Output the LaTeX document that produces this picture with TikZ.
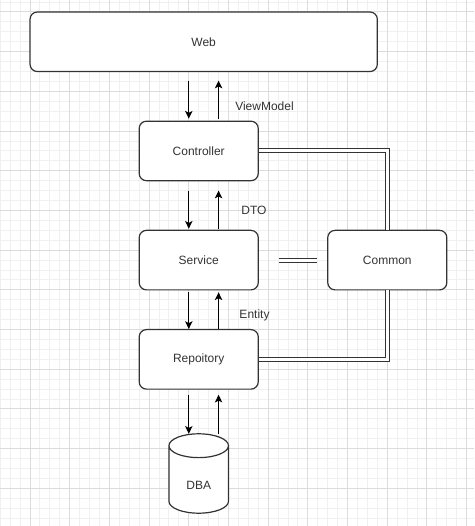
\documentclass[tikz,border=0pt]{standalone}
\usepackage{fontspec}
\setmainfont{Liberation Sans}
\usetikzlibrary{arrows.meta,calc}
\definecolor{ink}{HTML}{333333}
\definecolor{gridminor}{HTML}{F0F0F0}
\definecolor{gridmajor}{HTML}{DCDCDC}

\begin{document}
\begin{tikzpicture}[x=7.444pt,y=-7.444pt,
  font=\fontsize{9}{11}\selectfont,text=ink,
  layer/.style={draw=ink,line width=0.9pt,fill=white,rounded corners=5.5pt,
    minimum width=89.33pt,minimum height=44.66pt,inner sep=0pt},
  flow/.style={-{Stealth[length=5.8pt,width=5.5pt,inset=1.4pt]},line width=0.9pt,black},
  link/.style={double,double distance=2.2pt,line width=0.8pt,draw=ink},
  lbl/.style={inner sep=0pt}]
\useasboundingbox (-3.023,-1.209) rectangle (44.74,51.79);
% background grid
\foreach \gx in {-3,...,44} \draw[gridminor,line width=0.75pt] (\gx,-1.209) -- (\gx,51.79);
\foreach \gy in {-1,...,51} \draw[gridminor,line width=0.75pt] (-3.023,\gy) -- (44.74,\gy);
\foreach \gx in {0,4,...,44} \draw[gridmajor,line width=0.75pt] (\gx,-1.209) -- (\gx,51.79);
\foreach \gy in {0,4,...,48} \draw[gridmajor,line width=0.75pt] (-3.023,\gy) -- (44.74,\gy);
% layers
\node[layer,minimum width=260.5pt] (web) at (17.5,3) {Web};
\node[layer] (ctrl) at (17,14) {Controller};
\node[layer] (svc) at (17,25) {Service};
\node[layer] (repo) at (17,35) {Repoitory};
\node[layer] (common) at (36,25) {Common};
% database
\coordinate (dbtop) at (17,42.5);
\draw[draw=ink,line width=0.9pt,fill=white] (14,43.7) -- (14,49.3)
  arc[start angle=180,end angle=360,x radius=22.33pt,y radius=8.93pt] -- (20,43.7)
  arc[start angle=0,end angle=180,x radius=22.33pt,y radius=8.93pt]
  arc[start angle=180,end angle=360,x radius=22.33pt,y radius=8.93pt];
\node[lbl] (db) at (17,47.7) {DBA};
% common links
\draw[link] (ctrl.east) -| (common.north);
\draw[link] (repo.east) -| (common.south);
\draw[link] ($(svc.east)+(2,0)$) -- ($(common.west)+(-1,0)$);
% calls down and results up
\draw[flow] ($(web.south)+(-1.5,0.85)$) -- ($(ctrl.north)+(-1,-0.19)$);
\draw[flow] ($(ctrl.north)+(2,-0.2)$) -- ($(web.south)+(1.5,0.85)$);
\draw[flow] ($(ctrl.south)+(-1,0.93)$) -- ($(svc.north)+(-1,-0.1)$);
\draw[flow] ($(svc.north)+(2,-0.1)$) -- ($(ctrl.south)+(2,0.93)$);
\draw[flow] ($(svc.south)+(-1,0.18)$) -- (repo.north -| 16,0);
\draw[flow] (repo.north -| 19,0) -- ($(svc.south)+(2,0.18)$);
\draw[flow] ($(repo.south)+(-1,0.5)$) -- (dbtop -| 16,0);
\draw[flow] ($(dbtop)+(2,0)$) -- ($(repo.south)+(2,0.5)$);
% labels
\node[lbl] (vm) at (23.63,9.54) {ViewModel};
\node[lbl] (dto) at (22.57,20.02) {DTO};
\node[lbl] (ent) at (22.62,30.6) {Entity};
\end{tikzpicture}
\end{document}
